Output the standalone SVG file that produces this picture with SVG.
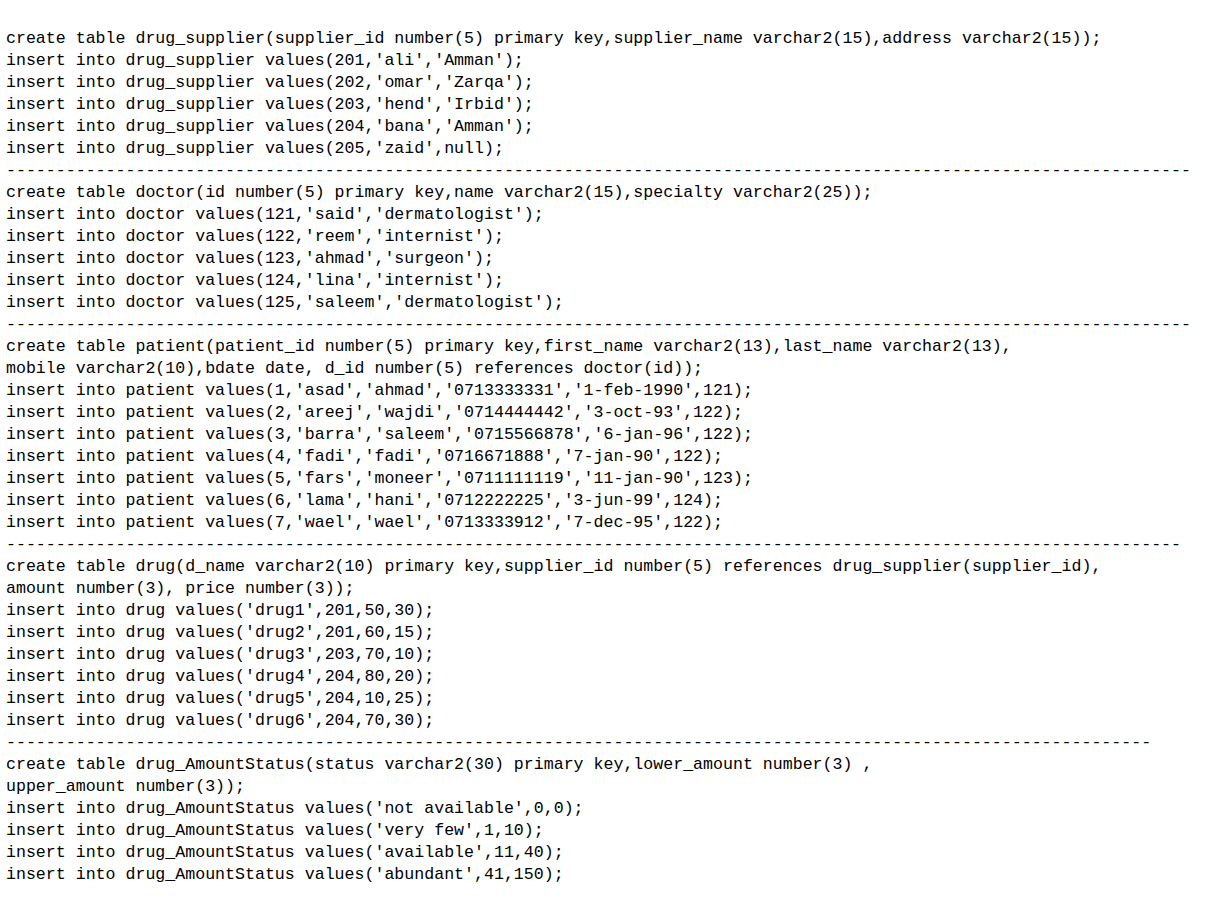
<svg xmlns="http://www.w3.org/2000/svg" width="1219" height="899" viewBox="0 0 1219 899">
<style>text{font-family:"Liberation Mono","DejaVu Sans Mono",monospace;font-size:16.6px;fill:#000;white-space:pre}</style>
<rect width="1219" height="899" fill="#fff"/>
<g id="code">
<text x="6" y="43">create table drug_supplier(supplier_id number(5) primary key,supplier_name varchar2(15),address varchar2(15));</text>
<text x="6" y="65">insert into drug_supplier values(201,'ali','Amman');</text>
<text x="6" y="87">insert into drug_supplier values(202,'omar','Zarqa');</text>
<text x="6" y="109">insert into drug_supplier values(203,'hend','Irbid');</text>
<text x="6" y="131">insert into drug_supplier values(204,'bana','Amman');</text>
<text x="6" y="153">insert into drug_supplier values(205,'zaid',null);</text>
<text x="6" y="175">-----------------------------------------------------------------------------------------------------------------------</text>
<text x="6" y="197">create table doctor(id number(5) primary key,name varchar2(15),specialty varchar2(25));</text>
<text x="6" y="219">insert into doctor values(121,'said','dermatologist');</text>
<text x="6" y="241">insert into doctor values(122,'reem','internist');</text>
<text x="6" y="263">insert into doctor values(123,'ahmad','surgeon');</text>
<text x="6" y="285">insert into doctor values(124,'lina','internist');</text>
<text x="6" y="307">insert into doctor values(125,'saleem','dermatologist');</text>
<text x="6" y="329">-----------------------------------------------------------------------------------------------------------------------</text>
<text x="6" y="351">create table patient(patient_id number(5) primary key,first_name varchar2(13),last_name varchar2(13),</text>
<text x="6" y="373">mobile varchar2(10),bdate date, d_id number(5) references doctor(id));</text>
<text x="6" y="395">insert into patient values(1,'asad','ahmad','0713333331','1-feb-1990',121);</text>
<text x="6" y="417">insert into patient values(2,'areej','wajdi','0714444442','3-oct-93',122);</text>
<text x="6" y="439">insert into patient values(3,'barra','saleem','0715566878','6-jan-96',122);</text>
<text x="6" y="461">insert into patient values(4,'fadi','fadi','0716671888','7-jan-90',122);</text>
<text x="6" y="483">insert into patient values(5,'fars','moneer','0711111119','11-jan-90',123);</text>
<text x="6" y="505">insert into patient values(6,'lama','hani','0712222225','3-jun-99',124);</text>
<text x="6" y="527">insert into patient values(7,'wael','wael','0713333912','7-dec-95',122);</text>
<text x="6" y="549">----------------------------------------------------------------------------------------------------------------------</text>
<text x="6" y="571">create table drug(d_name varchar2(10) primary key,supplier_id number(5) references drug_supplier(supplier_id),</text>
<text x="6" y="593">amount number(3), price number(3));</text>
<text x="6" y="615">insert into drug values('drug1',201,50,30);</text>
<text x="6" y="637">insert into drug values('drug2',201,60,15);</text>
<text x="6" y="659">insert into drug values('drug3',203,70,10);</text>
<text x="6" y="681">insert into drug values('drug4',204,80,20);</text>
<text x="6" y="703">insert into drug values('drug5',204,10,25);</text>
<text x="6" y="725">insert into drug values('drug6',204,70,30);</text>
<text x="6" y="747">-------------------------------------------------------------------------------------------------------------------</text>
<text x="6" y="769">create table drug_AmountStatus(status varchar2(30) primary key,lower_amount number(3) ,</text>
<text x="6" y="791">upper_amount number(3));</text>
<text x="6" y="813">insert into drug_AmountStatus values('not available',0,0);</text>
<text x="6" y="835">insert into drug_AmountStatus values('very few',1,10);</text>
<text x="6" y="857">insert into drug_AmountStatus values('available',11,40);</text>
<text x="6" y="879">insert into drug_AmountStatus values('abundant',41,150);</text>
</g>
</svg>
